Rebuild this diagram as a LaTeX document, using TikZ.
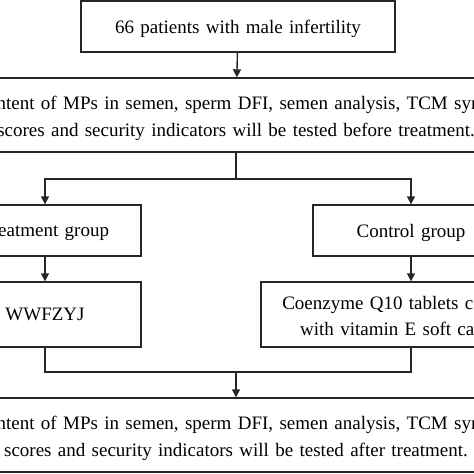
\documentclass[tikz,border=0pt]{standalone}
\usepackage{fontspec}
\setmainfont{Liberation Serif}
\usetikzlibrary{arrows.meta}

\begin{document}
\begin{tikzpicture}[x=1pt, y=-1pt,
    box/.style={draw=black!85, line width=1.4pt, inner sep=0pt, align=center,
      text depth=0pt, font=\fontsize{19}{26.7}\selectfont},
    twoline/.style={box, text depth=24pt},
    line/.style={draw=black!85, line width=1.4pt},
    arr/.style={line, -{Triangle[length=8pt, width=8pt]}}]
      \useasboundingbox (0, 0) rectangle (474, 474);
      \clip (0, 0) rectangle (474, 474);
      % boxes
      \node[box, text width=314pt, minimum height=51pt] (patients) at (238, 26.5)
        {66 patients with male infertility};
      \node[twoline, text width=600pt, minimum height=74pt] (before) at (236, 115)
        {The content of MPs in semen, sperm DFI, semen analysis, TCM syndrome\\
         scores and security indicators will be tested before treatment.};
      \node[box, text width=192pt, minimum height=51pt] (treatment) at (45, 230.5)
        {Treatment group};
      \node[box, text width=196pt, minimum height=51pt] (control) at (411, 230.5)
        {Control group};
      \node[box, text width=192pt, minimum height=65pt] (wwfzyj) at (45, 314.5)
        {WWFZYJ};
      \node[twoline, text width=300pt, minimum height=65pt] (coenzyme) at (411, 314.5)
        {Coenzyme Q10 tablets combined\\ with vitamin E soft capsules};
      \node[twoline, text width=600pt, minimum height=74pt] (after) at (236, 435)
        {The content of MPs in semen, sperm DFI, semen analysis, TCM syndrome\\
         scores and security indicators will be tested after treatment.};
      % connectors
      \coordinate (split) at (236, 179);
      \coordinate (merge) at (236, 372);
      \draw[arr] (patients) -- (before);
      \draw[line] (before.south) -- (split);
      \draw[arr] (split) -| (treatment.north);
      \draw[arr] (split) -| (control.north);
      \draw[arr] (treatment) -- (wwfzyj);
      \draw[arr] (control) -- (coenzyme);
      \draw[line] (wwfzyj.south) |- (merge);
      \draw[line] (coenzyme.south) |- (merge);
      \draw[arr] (merge) -- (after.north);
    \end{tikzpicture}
\end{document}
